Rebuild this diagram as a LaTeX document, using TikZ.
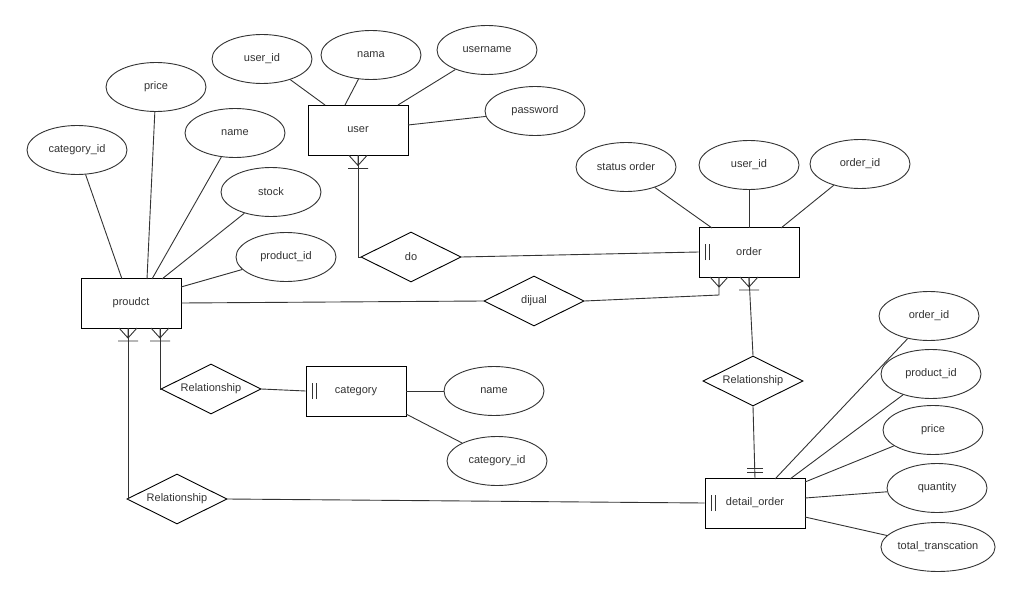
\documentclass[tikz,border=0pt]{standalone}
\usepackage{fontspec}
\setmainfont{Liberation Sans}
\usetikzlibrary{shapes.geometric}
\begin{document}
\begin{tikzpicture}[x=1pt,y=-1pt,line width=0.9pt,
  every node/.style={font=\fontsize{11}{13}\selectfont,text=black!80},
  ent/.style={draw=black,fill=white,minimum width=100pt,minimum height=50pt,inner sep=0},
  att/.style={draw=black!80,fill=white,ellipse,minimum width=100pt,minimum height=49pt,inner sep=0},
  rel/.style={draw=black,fill=white,diamond,aspect=2,minimum width=100pt,minimum height=50pt,inner sep=0},
  ln/.style={draw=black!80},
  crow/.pic={\draw[black!80] (-9,0)--(0,10)--(9,0) (0,0)--(0,10) (-10,13)--(10,13);},
  crowonly/.pic={\draw[black!80] (-9,0)--(0,10)--(9,0) (0,0)--(0,10);},
  one/.pic={\draw[black!80] (-8,7)--(8,7) (-8,11)--(8,11);}]
\useasboundingbox (0,0) rectangle (1016,599);
% entities
\node[ent] (user) at (358,130) {user};
\node[ent] (order) at (749,252) {order};
\node[ent] (prod) at (131,303) {proudct};
\node[ent] (cat) at (356,391) {category};
\node[ent] (det) at (755,503) {detail\_order};
% attributes
\node[att] (uid) at (262,59) {user\_id};
\node[att] (nama) at (371,55) {nama};
\node[att] (uname) at (487,50) {username};
\node[att] (pass) at (535,111) {password};
\node[att] (price) at (156,87) {price};
\node[att] (pcat) at (77,150) {category\_id};
\node[att] (pname) at (235,133) {name};
\node[att] (stock) at (271,192) {stock};
\node[att] (pid) at (286,257) {product\_id};
\node[att] (ost) at (626,167) {status order};
\node[att] (ouid) at (749,165) {user\_id};
\node[att] (oid) at (860,164) {order\_id};
\node[att] (doid) at (929,316) {order\_id};
\node[att] (dpid) at (931,374) {product\_id};
\node[att] (dpr) at (933,430) {price};
\node[att] (dq) at (937,488) {quantity};
\node[att] (dt) at (938,547) {total\_transcation};
\node[att] (cname) at (494,391) {name};
\node[att] (ccid) at (497,461) {category\_id};
% attribute lines
\draw[ln] (uid) -- (325,105);
\draw[ln] (nama) -- (345,105);
\draw[ln] (uname) -- (398,105);
\draw[ln] (pass) -- (408,125);
\draw[ln] (pcat) -- (122,279);
\draw[ln] (price) -- (147,279);
\draw[ln] (pname) -- (152,279);
\draw[ln] (stock) -- (162,279);
\draw[ln] (pid) -- (181,287);
\draw[ln] (ost) -- (712,228);
\draw[ln] (ouid) -- (749,228);
\draw[ln] (oid) -- (781,228);
\draw[ln] (doid) -- (775,479);
\draw[ln] (dpid) -- (790,479);
\draw[ln] (dpr) -- (805,482);
\draw[ln] (dq) -- (805,498);
\draw[ln] (dt) -- (805,517);
\draw[ln] (cname) -- (406,391);
\draw[ln] (ccid) -- (406,414);
% relationships
\node[rel] (do) at (411,257) {do};
\node[rel] (dij) at (534,301) {dijual};
\node[rel] (r1) at (211,389) {Relationship};
\node[rel] (r2) at (177,499) {Relationship};
\node[rel] (r3) at (753,381) {Relationship};
% connectors
\draw[ln] (user.south) -- (358,257) -- (do.west);
\pic at (user.south) {crow};
\draw[ln] (do.east) -- (order.west);
\pic[rotate=90] at (order.west) {one};
\draw[ln] (prod.east) -- (dij.west);
\coordinate (ob1) at (719,277);
\draw[ln] (dij.east) -- (719,295) -- (ob1);
\pic at (ob1) {crowonly};
\coordinate (ob2) at (749,277);
\draw[ln] (ob2) -- (r3.north);
\pic at (ob2) {crow};
\coordinate (dtop) at (755,479);
\draw[ln] (r3.south) -- (dtop);
\pic[rotate=180] at (dtop) {one};
\coordinate (pb1) at (160,328);
\draw[ln] (pb1) -- (160,389) -- (r1.west);
\pic at (pb1) {crow};
\draw[ln] (r1.east) -- (cat.west);
\pic[rotate=90] at (cat.west) {one};
\coordinate (pb2) at (128,328);
\draw[ln] (pb2) -- (128,499) -- (r2.west);
\pic at (pb2) {crow};
\draw[ln] (r2.east) -- (det.west);
\pic[rotate=90] at (det.west) {one};
\end{tikzpicture}
\end{document}
